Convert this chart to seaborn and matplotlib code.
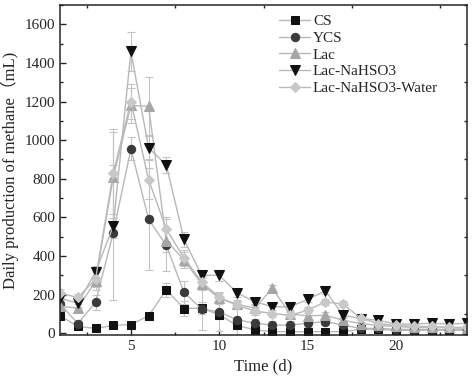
import numpy as np
import pandas as pd
import matplotlib
matplotlib.use("Agg")
import matplotlib.pyplot as plt
from matplotlib.ticker import MultipleLocator
import seaborn as sns

# --- data ---
days = list(range(1, 25))
series_names = ["CS", "YCS", "Lac", "Lac-NaHSO3", "Lac-NaHSO3-Water"]

cs = [90, 35, 25, 40, 45, 90, 225, 128, 130, 95, 40, 18, 8, 8, 8, 8, 8, 20, 20, 15, 15, 15, 15, 15]
ycs = [150, 50, 160, 520, 955, 590, 455, 212, 125, 110, 70, 52, 42, 42, 52, 60, 42, 25, 25, 20, 20, 20, 20, 20]
lac = [140, 130, 270, 810, 1180, 1175, 480, 380, 255, 180, 150, 130, 232, 100, 90, 93, 67, 50, 40, 35, 30, 30, 30, 25]
lac_n = [181, 155, 318, 555, 1460, 960, 872, 486, 300, 300, 209, 163, 137, 137, 175, 220, 93, 76, 67, 47, 47, 52, 47, 52]
lac_nw = [207, 185, 280, 829, 1200, 795, 540, 390, 266, 185, 145, 115, 102, 93, 119, 163, 150, 78, 50, 40, 35, 35, 30, 30]

cs_err = [10, 10, 10, 10, 15, 20, 35, 40, 30, 20, 15, 5, 5, 5, 5, 5, 5, 5, 5, 5, 5, 5, 5, 5]
ycs_err = [30, 20, 40, 350, 60, 265, 135, 60, 110, 100, 90, 20, 20, 20, 20, 20, 15, 15, 10, 10, 10, 10, 10, 10]
lac_err = [30, 20, 45, 230, 90, 150, 60, 40, 30, 30, 20, 20, 20, 15, 15, 15, 10, 10, 10, 10, 10, 10, 10, 10]
lac_n_err = [20, 20, 30, 60, 100, 60, 40, 40, 30, 30, 20, 15, 15, 15, 15, 15, 10, 10, 10, 10, 10, 10, 10, 10]
lac_nw_err = [20, 20, 40, 230, 90, 100, 60, 40, 30, 30, 20, 20, 20, 15, 15, 15, 15, 10, 10, 10, 10, 10, 10, 10]

values = [cs, ycs, lac, lac_n, lac_nw]
errors = [cs_err, ycs_err, lac_err, lac_n_err, lac_nw_err]
markers = ["s", "o", "^", "v", "D"]
marker_sizes = [5.5, 6, 6.5, 7, 5]
face_colors = ["#111111", "#3a3a3a", "#a6a6a6", "#111111", "#c8c8c8"]
line_color = "#b8b8b8"

df = pd.DataFrame({
    "Day": days * len(series_names),
    "Value": sum(values, []),
    "Err": sum(errors, []),
    "Group": [n for n in series_names for _ in days],
})

sns.set_style("ticks")
plt.rcParams["font.family"] = ["Liberation Serif", "Noto Sans CJK SC"]

fig = plt.figure(figsize=(4.74, 3.87), dpi=100)
ax = fig.add_axes([0.127, 0.134, 0.858, 0.853])

for name, mk, ms, fc in zip(series_names, markers, marker_sizes, face_colors):
    sub = df[df["Group"] == name]
    ax.errorbar(sub["Day"], sub["Value"], yerr=sub["Err"], fmt="none",
                ecolor="#c4c4c4", elinewidth=0.8, capsize=3, capthick=0.8, zorder=1)
    sns.lineplot(x="Day", y="Value", data=sub, ax=ax, color=line_color, lw=1.0,
                 marker=mk, markersize=ms, markerfacecolor=fc, markeredgecolor=fc,
                 label=name, zorder=2)

ax.set_xlim(1, 24)
ax.set_ylim(-10, 1700)
ax.xaxis.set_major_locator(MultipleLocator(5))
ax.xaxis.set_minor_locator(MultipleLocator(2.5))
ax.yaxis.set_major_locator(MultipleLocator(200))
ax.yaxis.set_minor_locator(MultipleLocator(100))
ax.tick_params(which="both", direction="in", labelsize=11, width=1.0)
ax.tick_params(which="major", length=4)
ax.tick_params(which="minor", length=2.5, top=True, right=True)
for sp in ax.spines.values():
    sp.set_linewidth(1.1)

ax.set_xlabel("Time (d)", fontsize=12)
ax.set_ylabel("Daily production of methane（mL)", fontsize=12)

ax.legend(loc="upper left", bbox_to_anchor=(0.505, 1.013), frameon=False,
          fontsize=11, handlelength=2.0, labelspacing=0.2, handletextpad=0.2)

plt.savefig("out.png", dpi=100)
plt.close()
